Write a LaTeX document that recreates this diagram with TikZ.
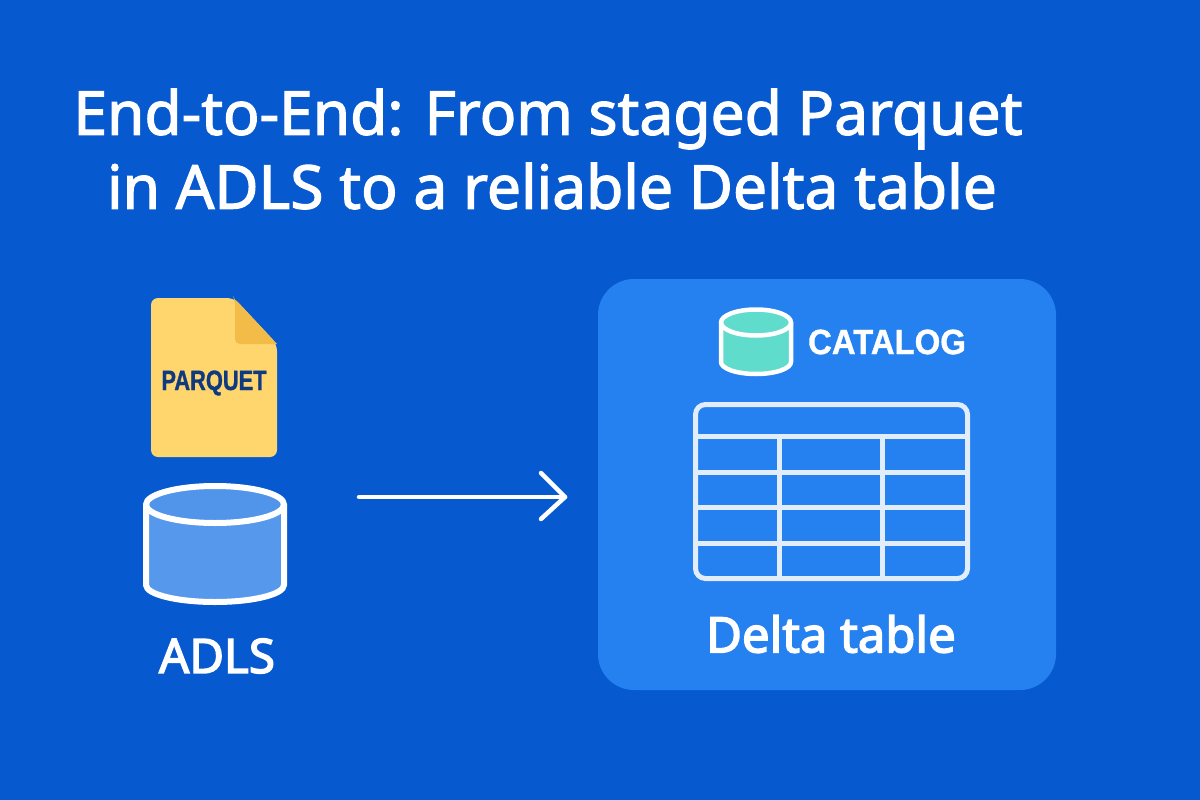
\documentclass[tikz,border=0pt]{standalone}
\usepackage{fontspec}
\setmainfont{Noto Sans}
\newfontfamily\medfont[FakeBold=2]{Noto Sans}
\newfontfamily\labfont[FakeBold=3]{Noto Sans}
\newfontfamily\catfont[FakeStretch=0.94,FakeBold=1]{Liberation Sans Bold}
\newfontfamily\pqfont[FakeStretch=0.78,FakeBold=1]{Liberation Sans Bold}
\usetikzlibrary{arrows.meta}
\definecolor{bg}{HTML}{0659CF}
\definecolor{panel}{HTML}{2580F0}
\definecolor{cyl}{HTML}{5699EC}
\definecolor{cyltop}{HTML}{5095EA}
\definecolor{teal}{HTML}{5FDCCB}
\definecolor{fileY}{HTML}{FFD66E}
\definecolor{fold}{HTML}{F3BC48}
\definecolor{navy}{HTML}{0F3A80}
\definecolor{gridc}{HTML}{E2EDFC}
\tikzset{
 px/.style={x=1pt,y=-1pt},
 title/.style={text=white,font=\fontsize{60.5}{60}\selectfont\medfont,anchor=center},
 lab/.style={text=white,font=\fontsize{47.5}{48}\selectfont\labfont,anchor=center},
 wl/.style={draw=white,line width=4.5pt,line join=round,line cap=round},
 cylline/.style={draw=white,line width=6pt,line join=round},
 catline/.style={draw=white,line width=4.5pt,line join=round},
 gl/.style={draw=gridc,line width=5pt}
}
\begin{document}
\begin{tikzpicture}[px]
\useasboundingbox (0,0) rectangle (1200,800);
\fill[bg] (0,0) rectangle (1200,800);
\node[title] (t1) at (548,119) {End-to-End: From staged Parquet};
\node[title] (t2) at (552,186) {in ADLS to a reliable Delta table};
% file
\fill[fileY,rounded corners=7pt] (151,298) -- (234,298) -- (277,344) -- (277,457) -- (151,457) -- cycle;
\fill[fold] (234,298) -- (277,344) -- (240,344) [rounded corners=5pt] -- (235,344) -- (235,300) -- cycle;
\node[font=\fontsize{28}{28}\selectfont\pqfont,text=navy] (pq) at (214,383) {PARQUET};
% cylinder
\path[fill=cyl] (146,504) -- (146,585) arc[start angle=180,end angle=360,x radius=69,y radius=-17] -- (284,504) -- cycle;
\path[fill=cyltop,cylline] (215,504.5) ellipse[x radius=69,y radius=18.5];
\draw[cylline] (146,504) -- (146,585) arc[start angle=180,end angle=0,x radius=69,y radius=17] -- (284,504);
\node[lab] (adls) at (217,656) {ADLS};
% arrow
\coordinate (a) at (359,497);
\coordinate (b) at (565,497);
\draw[wl] (a) -- (b);
\draw[wl] (541,473) -- (b) -- (541,519);
% panel
\fill[panel,rounded corners=36pt] (598,279) rectangle (1056,690);
% catalog
\path[fill=teal] (721,322) -- (721,362) arc[start angle=180,end angle=0,x radius=35,y radius=12] -- (791,322) -- cycle;
\draw[catline,fill=teal] (756,322.5) ellipse[x radius=35,y radius=13];
\draw[catline] (721,322) -- (721,362) arc[start angle=180,end angle=0,x radius=35,y radius=12] -- (791,322);
\node[font=\fontsize{35}{35}\selectfont\catfont,text=white] (cat) at (887,342) {CATALOG};
% table
\draw[gl,rounded corners=10pt] (695.5,404.5) rectangle (967.5,578.5);
\foreach \y in {436,472,507.5,543} \draw[gl] (695.5,\y) -- (967.5,\y);
\foreach \x in {779,882} \draw[gl] (\x,436) -- (\x,578);
\node[lab,font=\fontsize{49}{49}\selectfont\labfont] (d) at (831,634) {Delta table};
\end{tikzpicture}
\end{document}
